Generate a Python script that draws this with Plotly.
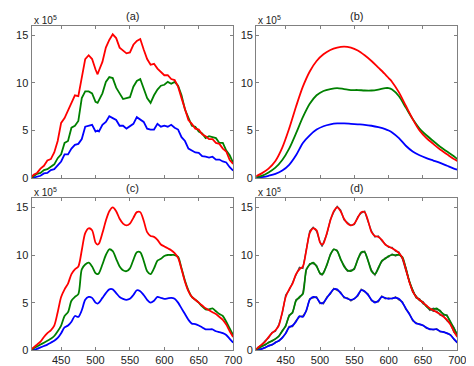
import plotly.graph_objects as go

# ---------------- data ----------------
wl = [407, 410, 415, 420, 425, 430, 435, 440, 445, 450, 455, 460, 465, 470, 475, 480,
      485, 490, 495, 500, 503, 505, 510, 515, 520, 525, 530, 535, 540, 545, 550, 555,
      560, 565, 570, 575, 580, 585, 590, 595, 600, 605, 610, 615, 620, 625, 630, 635,
      640, 645, 650, 655, 660, 665, 670, 675, 680, 685, 690, 695, 700]

# smooth reconstructions (panels c, d)
red_s = [0.1, 0.3, 0.6, 0.9, 1.4, 1.8, 2.1, 2.6, 4.0, 5.6, 6.4, 7.0, 8.0, 8.5, 8.8, 10.5,
         12.3, 12.8, 12.6, 11.3, 11.1, 11.2, 12.3, 13.6, 14.6, 15.0, 14.6, 13.8, 13.3, 13.1, 13.3, 13.9,
         14.5, 14.5, 13.6, 12.4, 12.0, 11.9, 11.6, 11.1, 10.9, 10.7, 10.5, 10.2, 9.7, 8.5, 7.2, 6.2,
         5.6, 5.3, 5.0, 4.7, 4.4, 4.2, 4.0, 3.8, 3.5, 3.2, 2.7, 2.0, 1.4]
green_s = [0.05, 0.2, 0.4, 0.6, 0.8, 1.0, 1.2, 1.5, 2.0, 2.6, 3.6, 4.0, 5.2, 5.6, 5.9, 8.5,
           9.0, 9.2, 8.8, 8.1, 8.0, 8.1, 9.0, 10.0, 10.6, 10.4, 9.6, 8.8, 8.4, 8.3, 8.6, 9.5,
           10.3, 10.3, 9.4, 8.3, 8.0, 8.6, 9.4, 9.6, 9.9, 10.0, 10.0, 10.0, 9.8, 8.6, 7.3, 6.3,
           5.6, 5.3, 5.0, 4.6, 4.3, 4.3, 4.4, 4.1, 3.8, 3.6, 3.0, 2.3, 1.6]
blue_s = [0.0, 0.05, 0.15, 0.3, 0.45, 0.6, 0.8, 1.0, 1.3, 1.8, 2.4, 2.6, 3.0, 3.6, 3.5, 4.2,
          5.3, 5.6, 5.5, 5.0, 4.9, 5.0, 5.5, 6.0, 6.4, 6.4, 6.0, 5.6, 5.4, 5.3, 5.4, 5.8,
          6.3, 6.2, 5.8, 5.3, 5.0, 5.2, 5.6, 5.5, 5.4, 5.45, 5.5, 5.4, 5.0, 4.4, 3.8, 3.2,
          2.8, 2.75, 2.6, 2.4, 2.2, 2.2, 2.2, 2.0, 1.9, 1.8, 1.6, 1.2, 0.8]

# measured (noisy) spectra (panel a, black in d)
red_m = [0.1, 0.35, 0.55, 1.0, 1.3, 1.85, 2.0, 2.7, 3.9, 5.8, 6.3, 7.1, 7.8, 8.7, 8.6, 10.6,
         12.5, 12.9, 12.5, 11.4, 10.9, 11.3, 12.2, 13.7, 14.5, 15.1, 14.7, 13.7, 13.4, 13.1, 13.2, 14.0,
         14.4, 14.6, 13.5, 12.5, 11.9, 12.0, 11.5, 11.2, 10.8, 10.8, 10.4, 10.3, 9.6, 8.4, 7.3, 6.1,
         5.7, 5.2, 5.1, 4.6, 4.4, 4.1, 4.1, 3.7, 3.6, 3.1, 2.8, 1.9, 1.5]
green_m = [0.05, 0.2, 0.45, 0.55, 0.85, 0.95, 1.25, 1.45, 2.1, 2.5, 3.7, 3.9, 5.3, 5.5, 6.0, 8.4,
           9.1, 9.1, 8.9, 8.0, 7.9, 8.2, 8.9, 10.1, 10.6, 10.5, 9.5, 8.9, 8.3, 8.4, 8.5, 9.6,
           10.2, 10.4, 9.3, 8.4, 7.9, 8.7, 9.3, 9.7, 9.8, 10.1, 9.9, 10.1, 9.7, 8.7, 7.2, 6.4,
           5.5, 5.4, 4.9, 4.7, 4.2, 4.4, 4.3, 4.2, 3.7, 3.7, 2.9, 2.4, 1.6]
blue_m = [0.0, 0.05, 0.2, 0.25, 0.5, 0.55, 0.85, 0.95, 1.35, 1.75, 2.5, 2.5, 3.1, 3.5, 3.6, 4.1,
          5.4, 5.5, 5.6, 4.9, 5.0, 4.9, 5.6, 5.9, 6.5, 6.3, 6.1, 5.5, 5.5, 5.2, 5.5, 5.7,
          6.4, 6.1, 5.9, 5.2, 5.1, 5.1, 5.7, 5.4, 5.5, 5.4, 5.6, 5.3, 5.1, 4.3, 3.9, 3.1,
          2.9, 2.7, 2.65, 2.3, 2.25, 2.15, 2.25, 1.95, 1.95, 1.75, 1.65, 1.15, 0.8]

# panel b: broad smooth estimates
wl_b = [407, 415, 425, 435, 445, 455, 465, 475, 485, 495, 505, 515, 525, 535, 545, 555,
        565, 575, 585, 595, 600, 605, 615, 625, 635, 645, 655, 665, 675, 685, 695, 700]
red_b = [0.2, 0.5, 1.0, 1.8, 3.2, 5.2, 7.5, 9.6, 11.2, 12.3, 13.0, 13.45, 13.7, 13.8, 13.7, 13.4,
         12.9, 12.3, 11.6, 10.9, 10.5, 10.1, 9.0, 7.6, 6.2, 5.0, 4.2, 3.6, 3.0, 2.5, 2.0, 1.8]
green_b = [0.1, 0.25, 0.6, 1.1, 1.9, 3.1, 4.7, 6.4, 7.8, 8.7, 9.15, 9.35, 9.45, 9.35, 9.25, 9.25,
           9.2, 9.2, 9.3, 9.45, 9.45, 9.3, 8.6, 7.4, 6.2, 5.2, 4.5, 3.9, 3.3, 2.8, 2.3, 2.0]
blue_b = [0.0, 0.1, 0.25, 0.45, 0.8, 1.4, 2.4, 3.7, 4.5, 5.1, 5.45, 5.65, 5.75, 5.75, 5.7, 5.65,
          5.6, 5.5, 5.35, 5.15, 5.0, 4.8, 4.2, 3.4, 2.8, 2.4, 2.1, 1.85, 1.6, 1.3, 1.0, 0.9]

x_ticks = [450, 500, 550, 600, 650, 700]
y_ticks = [0, 5, 10, 15]
panel_titles = ["(a)", "(b)", "(c)", "(d)"]

RED, GREEN, BLUE = "#ff0000", "#008000", "#0000ff"

W, H = 474, 366
fig = go.Figure()

# panel geometry (pixels)
xdom = [(24, 229.5), (253, 458), (24, 229.5), (253, 458)]
ydom = [(18, 173), (18, 173), (193, 348), (193, 348)]

def add(panel, x, y, color, width=1.8, shape="linear", opacity=1.0):
    ax = "" if panel == 1 else str(panel)
    line = dict(color=color, width=width, shape=shape)
    if shape == "spline":
        line["smoothing"] = 0.8
    fig.add_trace(go.Scatter(x=x, y=y, mode="lines", xaxis="x" + ax, yaxis="y" + ax,
                             line=line, opacity=opacity,
                             showlegend=False, hoverinfo="skip"))

# (a)
add(1, wl, blue_m, BLUE); add(1, wl, green_m, GREEN); add(1, wl, red_m, RED)
# (b)
add(2, wl_b, blue_b, BLUE, shape="spline"); add(2, wl_b, green_b, GREEN, shape="spline")
add(2, wl_b, red_b, RED, shape="spline")
# (c)
add(3, wl, blue_s, BLUE, shape="spline"); add(3, wl, green_s, GREEN, shape="spline")
add(3, wl, red_s, RED, shape="spline")
# (d): measured in black underneath, reconstructions on top
add(4, wl, blue_m, "#222222", width=1.4, opacity=0.8)
add(4, wl, green_m, "#222222", width=1.4, opacity=0.8)
add(4, wl, red_m, "#222222", width=1.4, opacity=0.8)
add(4, wl, blue_s, BLUE, width=1.7, shape="spline")
add(4, wl, green_s, GREEN, width=1.7, shape="spline")
add(4, wl, red_s, RED, width=1.7, shape="spline")

font = dict(family="Liberation Sans, Arial, sans-serif", size=11, color="#222222")
axcol = "#808080"
layout = dict(width=W, height=H, margin=dict(l=0, r=0, t=0, b=0),
              plot_bgcolor="white", paper_bgcolor="white", font=font)
annotations = []
for i in range(4):
    n = "" if i == 0 else str(i + 1)
    x0, x1 = xdom[i]
    y0, y1 = ydom[i]
    layout["xaxis" + n] = dict(domain=[x0 / W, x1 / W], range=[407, 700], tickvals=x_ticks,
                               showticklabels=(i >= 2), ticks="inside", ticklen=3,
                               tickcolor=axcol, showline=True, linecolor=axcol, linewidth=1,
                               mirror="ticks", showgrid=False, zeroline=False,
                               anchor="y" + n, tickfont=font)
    layout["yaxis" + n] = dict(domain=[1 - y1 / H, 1 - y0 / H], range=[0, 16], tickvals=y_ticks,
                               ticks="inside", ticklen=3, tickcolor=axcol, showline=True,
                               linecolor=axcol, linewidth=1, mirror="ticks", showgrid=False,
                               zeroline=False, anchor="x" + n, tickfont=font)
    annotations.append(dict(text=panel_titles[i], x=(x0 + x1) / 2 / W, y=1 - (y0 - 10) / H,
                            xref="paper", yref="paper", showarrow=False, font=font,
                            xanchor="center", yanchor="middle"))
    annotations.append(dict(text="x 10<sup>5</sup>", x=x0 / W, y=1 - (y0 - 6) / H,
                            xref="paper", yref="paper", showarrow=False,
                            font=dict(family=font["family"], size=10, color="#222222"),
                            xanchor="left", yanchor="middle"))
layout["annotations"] = annotations
fig.update_layout(**layout)
fig.write_html("out.html")
